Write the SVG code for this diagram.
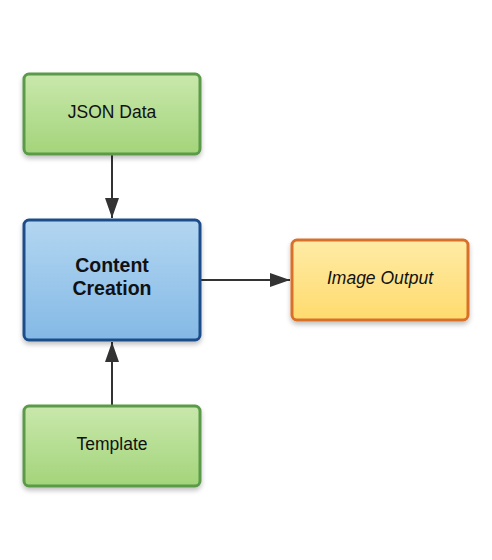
<svg xmlns="http://www.w3.org/2000/svg" width="492" height="560" viewBox="0 0 492 560">
<style>
.t{font-family:"Liberation Sans",Arial,sans-serif;font-size:17.5px;fill:#111;text-anchor:middle}
.b{font-weight:bold;font-size:19.5px}
.i{font-style:italic}
.c{stroke:#333;stroke-width:2;fill:none}
</style>
<defs>
<linearGradient id="gG" x1="0" y1="0" x2="0" y2="1"><stop offset="0" stop-color="#c9e8ac"/><stop offset="1" stop-color="#a3d47a"/></linearGradient>
<linearGradient id="gB" x1="0" y1="0" x2="0" y2="1"><stop offset="0" stop-color="#b3d6f1"/><stop offset="1" stop-color="#84b9e5"/></linearGradient>
<linearGradient id="gY" x1="0" y1="0" x2="0" y2="1"><stop offset="0" stop-color="#ffeba6"/><stop offset="1" stop-color="#ffdb6e"/></linearGradient>
<filter id="sh" x="-10%" y="-10%" width="130%" height="130%"><feGaussianBlur in="SourceAlpha" stdDeviation="2.5"/><feOffset dx="0" dy="3"/><feComponentTransfer><feFuncA type="linear" slope="0.25"/></feComponentTransfer><feMerge><feMergeNode/><feMergeNode in="SourceGraphic"/></feMerge></filter>
<marker id="ah" markerWidth="20" markerHeight="14" refX="20" refY="7" orient="auto" markerUnits="userSpaceOnUse"><path d="M0,0 L20,7 L0,14 z" fill="#333"/></marker>
</defs>
<g id="connectors">
<line class="c" x1="112" y1="155" x2="112" y2="218" marker-end="url(#ah)"/>
<line class="c" x1="112" y1="405" x2="112" y2="342" marker-end="url(#ah)"/>
<line class="c" x1="201" y1="280" x2="290" y2="280" marker-end="url(#ah)"/>
</g>
<g id="json-data">
<rect x="24" y="74" width="176" height="80" rx="5" fill="url(#gG)" stroke="#5a9a48" stroke-width="3" filter="url(#sh)"/>
<text class="t" x="112" y="118">JSON Data</text>
</g>
<g id="content-creation">
<rect x="24" y="220" width="176" height="120" rx="5" fill="url(#gB)" stroke="#1f4e8a" stroke-width="3" filter="url(#sh)"/>
<text class="t b" x="112" y="272">Content</text>
<text class="t b" x="112" y="295">Creation</text>
</g>
<g id="image-output">
<rect x="292" y="240" width="176" height="80" rx="5" fill="url(#gY)" stroke="#d9702c" stroke-width="3" filter="url(#sh)"/>
<text class="t i" x="380" y="284">Image Output</text>
</g>
<g id="template">
<rect x="24" y="406" width="176" height="80" rx="5" fill="url(#gG)" stroke="#5a9a48" stroke-width="3" filter="url(#sh)"/>
<text class="t" x="112" y="450">Template</text>
</g>
</svg>
